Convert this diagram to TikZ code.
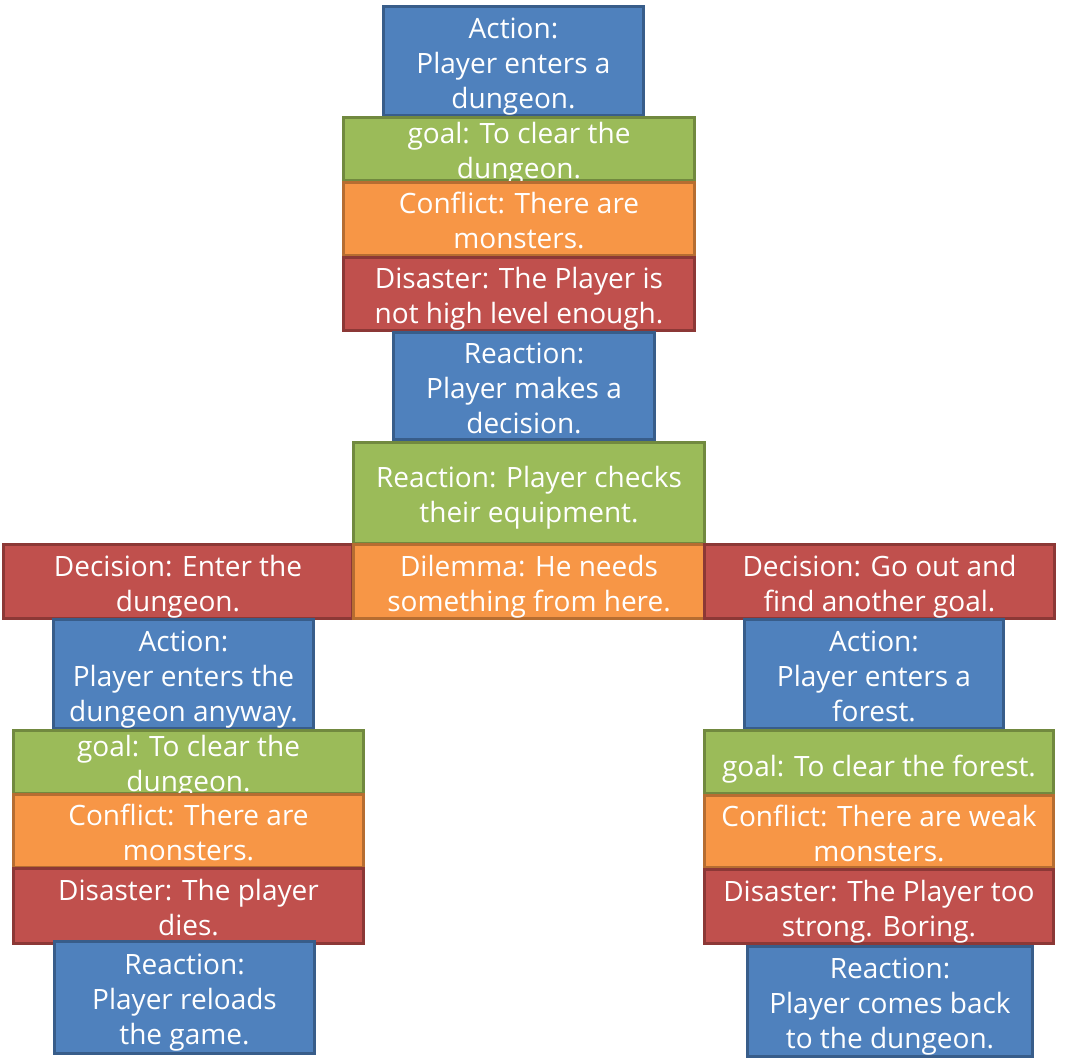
\documentclass[tikz,border=0pt]{standalone}
\usepackage{fontspec}
\setmainfont{Open Sans}
\usepackage{tikz}
\usepackage{xcolor}
\definecolor{actfill}{HTML}{4F81BD}
\definecolor{actline}{HTML}{385D8A}
\definecolor{goalfill}{HTML}{9BBB59}
\definecolor{goalline}{HTML}{71893F}
\definecolor{conffill}{HTML}{F79646}
\definecolor{confline}{HTML}{B66D31}
\definecolor{disfill}{HTML}{C0504D}
\definecolor{disline}{HTML}{8C3836}

\begin{document}
\begin{tikzpicture}[x=1pt,y=-1pt]
\tikzstyle{box}=[rectangle,line width=3pt,inner sep=0pt];
\tikzstyle{act}=[box,draw=actline,fill=actfill];
\tikzstyle{goal}=[box,draw=goalline,fill=goalfill];
\tikzstyle{conf}=[box,draw=confline,fill=conffill];
\tikzstyle{dis}=[box,draw=disline,fill=disfill];
\tikzstyle{txt}=[text=white,align=center,inner sep=0pt,yshift=-7pt,font=\fontsize{28}{35}\selectfont,execute at begin node=\strut,execute at end node=\strut];
\useasboundingbox (0,0) rectangle (1067,1060);
% top column
\node[act,minimum width=260,minimum height=109](a1) at (513.5,61) {};
\node[txt] at (a1) {Action:\\Player enters a\\dungeon.};
\node[goal,minimum width=351,minimum height=63](g1) at (519,149) {};
\node[txt] at (g1) {goal: To clear the\\dungeon.};
\node[conf,minimum width=351,minimum height=73](c1) at (519,219) {};
\node[txt] at (c1) {Conflict: There are\\monsters.};
\node[dis,minimum width=351,minimum height=73](d1) at (519,294) {};
\node[txt] at (d1) {Disaster: The Player is\\not high level enough.};
\node[act,minimum width=261,minimum height=107](r1) at (524,386) {};
\node[txt] at (r1) {Reaction:\\Player makes a\\decision.};
\node[goal,minimum width=351,minimum height=101](chk) at (529,493) {};
\node[txt] at (chk) {Reaction: Player checks\\their equipment.};
% decision row
\node[dis,minimum width=349,minimum height=74](decl) at (178,581.5) {};
\node[txt] at (decl) {Decision: Enter the\\dungeon.};
\node[conf,minimum width=351,minimum height=74](dil) at (529,581.5) {};
\node[txt] at (dil) {Dilemma: He needs\\something from here.};
\node[dis,minimum width=350,minimum height=74](decr) at (879.5,581.5) {};
\node[txt] at (decr) {Decision: Go out and\\find another goal.};
% left column
\node[act,minimum width=260,minimum height=109](a2) at (183.5,674) {};
\node[txt] at (a2) {Action:\\Player enters the\\dungeon anyway.};
\node[goal,minimum width=350,minimum height=63](g2) at (188.5,762) {};
\node[txt] at (g2) {goal: To clear the\\dungeon.};
\node[conf,minimum width=350,minimum height=73](c2) at (188.5,831) {};
\node[txt] at (c2) {Conflict: There are\\monsters.};
\node[dis,minimum width=350,minimum height=75](d2) at (188.5,906) {};
\node[txt] at (d2) {Disaster: The player\\dies.};
\node[act,minimum width=260,minimum height=112](r2) at (184.5,997.5) {};
\node[txt] at (r2) {Reaction:\\Player reloads\\the game.};
% right column
\node[act,minimum width=259,minimum height=109](a3) at (874,674) {};
\node[txt] at (a3) {Action:\\Player enters a\\forest.};
\node[goal,minimum width=349,minimum height=63](g3) at (879,762) {};
\node[txt] at (g3) {goal: To clear the forest.};
\node[conf,minimum width=349,minimum height=72](c3) at (879,831.5) {};
\node[txt] at (c3) {Conflict: There are weak\\monsters.};
\node[dis,minimum width=349,minimum height=74](d3) at (879,906.5) {};
\node[txt] at (d3) {Disaster: The Player too\\strong. Boring.};
\node[act,minimum width=285,minimum height=110](r3) at (890,1001.5) {};
\node[txt] at (r3) {Reaction:\\Player comes back\\to the dungeon.};
\end{tikzpicture}
\end{document}
